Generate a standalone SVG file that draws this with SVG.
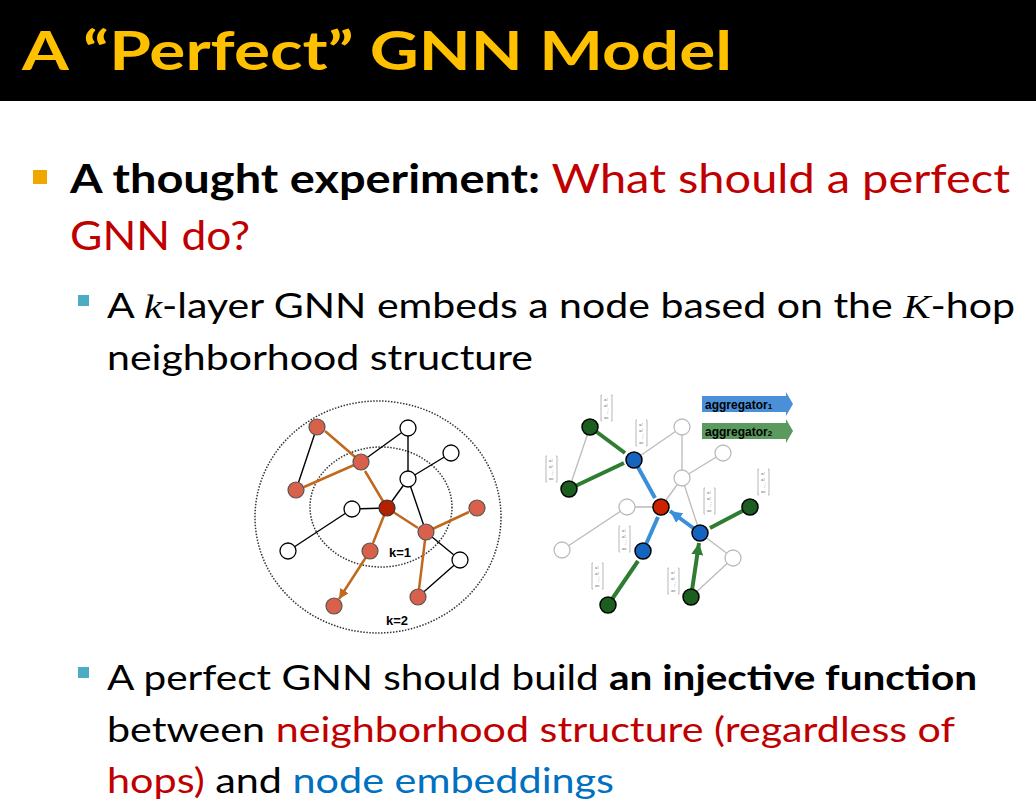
<svg xmlns="http://www.w3.org/2000/svg" width="1036" height="807" viewBox="0 0 1036 807">
<style>
.t{font-family:Lato,"Open Sans",sans-serif;fill:#000}
.r{fill:#C00000}.b{fill:#0070C0}
.m{font-family:"Liberation Serif",serif;font-style:italic}
.bk{stroke:#000;stroke-width:1.4;fill:none}
.or{stroke:#C0691E;stroke-width:2.5;fill:none;marker-end:url(#ao)}
.gy{stroke:#bbb;stroke-width:1.3;fill:none}
.gr{stroke:#2E7D32;stroke-width:4;fill:none;marker-end:url(#ag)}
.bl{stroke:#3A8FD9;stroke-width:4;fill:none;marker-end:url(#ab)}
.wn{fill:#fff;stroke:#000;stroke-width:1.3}
.rn{fill:#D9604A;stroke:#555;stroke-width:1.2}
.gn{fill:#fff;stroke:#bbb;stroke-width:1.3}
.gg{fill:#1B5E20;stroke:#000;stroke-width:1.5}
.bb{fill:#1565C0;stroke:#000;stroke-width:1.5}
.v{font-family:"Liberation Serif",serif;font-style:italic;font-size:5px;fill:#555}
.vb{stroke:#999;stroke-width:0.7;fill:none}
</style>
<defs>
<marker id="ao" viewBox="0 0 10 10" refX="10" refY="5" markerWidth="4" markerHeight="4" orient="auto"><path d="M0,0L10,5L0,10z" fill="#C0691E"/></marker>
<marker id="ag" viewBox="0 0 10 10" refX="10" refY="5" markerWidth="3" markerHeight="3" orient="auto"><path d="M0,0L10,5L0,10z" fill="#2E7D32"/></marker>
<marker id="ab" viewBox="0 0 10 10" refX="10" refY="5" markerWidth="3" markerHeight="3" orient="auto"><path d="M0,0L10,5L0,10z" fill="#3A8FD9"/></marker>
</defs>
<rect width="1036" height="807" fill="#fff"/>
<rect width="1036" height="101" fill="#000"/>
<text x="22" y="70" font-family="Lato,'Open Sans',sans-serif" font-weight="bold" font-size="54" fill="#FFC000" textLength="710" lengthAdjust="spacingAndGlyphs">A “Perfect” GNN Model</text>

<rect x="33" y="170" width="14" height="14" fill="#F0A800"/>
<text class="t" x="70" y="193" font-size="40" textLength="940" lengthAdjust="spacingAndGlyphs"><tspan font-weight="bold">A thought experiment:</tspan><tspan class="r"> What should a perfect</tspan></text>
<text class="t r" x="70" y="250" font-size="40" textLength="180" lengthAdjust="spacingAndGlyphs">GNN do?</text>

<rect x="78" y="295" width="11" height="11" fill="#4BACC6"/>
<text class="t" x="107" y="318" font-size="34" textLength="908" lengthAdjust="spacingAndGlyphs">A <tspan class="m">k</tspan>-layer GNN embeds a node based on the <tspan class="m">K</tspan>-hop</text>
<text class="t" x="107" y="370" font-size="34" textLength="426" lengthAdjust="spacingAndGlyphs">neighborhood structure</text>

<rect x="78" y="667" width="11" height="11" fill="#4BACC6"/>
<text class="t" x="107" y="690" font-size="34" textLength="870" lengthAdjust="spacingAndGlyphs">A perfect GNN should build <tspan font-weight="bold">an injective function</tspan></text>
<text class="t" x="107" y="742" font-size="34" textLength="848" lengthAdjust="spacingAndGlyphs">between <tspan class="r">neighborhood structure (regardless of</tspan></text>
<text class="t" x="107" y="793" font-size="34" textLength="507" lengthAdjust="spacingAndGlyphs"><tspan class="r">hops)</tspan> and <tspan class="b">node embeddings</tspan></text>

<!-- left figure -->
<g id="rings">
<ellipse cx="378" cy="517" rx="123" ry="116" fill="none" stroke="#333" stroke-width="1.5" stroke-dasharray="1.5 1.5"/>
<ellipse cx="381" cy="507" rx="71" ry="60" fill="none" stroke="#333" stroke-width="1.5" stroke-dasharray="1.5 1.5"/>
</g>
<g id="left-edges">
<path class="bk" d="M317,427L296,490M408,428L361,462M408,428L408,479M451,453L408,479M408,479L387,508M408,479L426,532M352,509L387,508M352,509L288,551M426,532L460,560M460,560L418,597"/>
<path class="or" d="M361,462L325,431M361,462L304,487M387,508L365,471M387,508L418,528M387,508L373,543M426,532L469,512M426,532L419,589M370,551L339,599"/>
</g>
<g id="left-nodes">
<circle class="rn" cx="317" cy="427" r="8"/><circle class="wn" cx="408" cy="428" r="8"/>
<circle class="rn" cx="361" cy="462" r="8"/><circle class="wn" cx="451" cy="453" r="8"/>
<circle class="rn" cx="296" cy="490" r="8"/><circle class="wn" cx="408" cy="479" r="8"/>
<circle class="wn" cx="352" cy="509" r="8"/><circle cx="387" cy="508" r="8" fill="#B52000" stroke="#333" stroke-width="1.2"/>
<circle class="rn" cx="477" cy="508" r="8"/><circle class="rn" cx="426" cy="532" r="8"/>
<circle class="wn" cx="288" cy="551" r="8"/><circle class="rn" cx="370" cy="551" r="8"/>
<circle class="wn" cx="460" cy="560" r="8"/><circle class="rn" cx="418" cy="597" r="8"/>
<circle class="rn" cx="334" cy="606" r="8"/>
</g>
<text x="389" y="557" font-family="Liberation Sans,sans-serif" font-weight="bold" font-size="13">k=1</text>
<text x="386" y="625" font-family="Liberation Sans,sans-serif" font-weight="bold" font-size="13">k=2</text>

<!-- right figure -->
<g id="legend">
<path d="M702,396H786V392L793,404L786,416V412H702Z" fill="#4A90D9"/>
<text x="705" y="409" font-family="Liberation Sans,sans-serif" font-weight="bold" font-size="12">aggregator<tspan font-size="8">1</tspan></text>
<path d="M702,423H786V419L793,431L786,443V439H702Z" fill="#5A9A5E"/>
<text x="705" y="436" font-family="Liberation Sans,sans-serif" font-weight="bold" font-size="12">aggregator<tspan font-size="8">2</tspan></text>
</g>
<g id="right-edges">
<path class="gy" d="M590,427L569,489M634,460L682,427M682,427L682,478M723,453L682,478M682,478L661,507M682,478L700,533M627,507L661,507M627,507L562,550M700,533L733,558M733,558L691,597"/>
<path class="gr" d="M590,427L625,453M569,489L624,463M750,507L710,528M608,605L638,561M691,597L699,543"/>
<path class="bl" d="M634,460L655,498M643,551L658,517M700,533L670,511"/>
</g>
<g id="right-nodes">
<circle class="gg" cx="590" cy="427" r="8"/><circle class="bb" cx="634" cy="460" r="8"/>
<circle class="gn" cx="682" cy="427" r="8"/><circle class="gn" cx="723" cy="453" r="8"/>
<circle class="gn" cx="682" cy="478" r="8"/><circle class="gg" cx="569" cy="489" r="8"/>
<circle class="gn" cx="627" cy="507" r="8"/><circle cx="661" cy="507" r="8" fill="#CC2200" stroke="#000" stroke-width="1.5"/>
<circle class="gg" cx="750" cy="507" r="8"/><circle class="bb" cx="700" cy="533" r="8"/>
<circle class="bb" cx="643" cy="551" r="8"/><circle class="gn" cx="562" cy="550" r="8"/>
<circle class="gn" cx="733" cy="558" r="8"/><circle class="gg" cx="608" cy="605" r="8"/>
<circle class="gg" cx="691" cy="597" r="8"/>
</g>
<g id="vectors">
<g transform="translate(601,395)"><path class="vb" d="M1,0H0V26H1M10,0H11V26H10"/><text class="v" x="3" y="6">x<tspan font-size="3">1</tspan></text><text class="v" x="3" y="12">x<tspan font-size="3">2</tspan></text><text class="v" x="4" y="18">⋮</text><text class="v" x="3" y="24">x<tspan font-size="3">m</tspan></text></g>
<g transform="translate(636,420)"><path class="vb" d="M1,0H0V26H1M10,0H11V26H10"/><text class="v" x="3" y="6">x<tspan font-size="3">1</tspan></text><text class="v" x="3" y="12">x<tspan font-size="3">2</tspan></text><text class="v" x="4" y="18">⋮</text><text class="v" x="3" y="24">x<tspan font-size="3">m</tspan></text></g>
<g transform="translate(546,456)"><path class="vb" d="M1,0H0V26H1M10,0H11V26H10"/><text class="v" x="3" y="6">x<tspan font-size="3">1</tspan></text><text class="v" x="3" y="12">x<tspan font-size="3">2</tspan></text><text class="v" x="4" y="18">⋮</text><text class="v" x="3" y="24">x<tspan font-size="3">m</tspan></text></g>
<g transform="translate(758,469)"><path class="vb" d="M1,0H0V26H1M10,0H11V26H10"/><text class="v" x="3" y="6">x<tspan font-size="3">1</tspan></text><text class="v" x="3" y="12">x<tspan font-size="3">2</tspan></text><text class="v" x="4" y="18">⋮</text><text class="v" x="3" y="24">x<tspan font-size="3">m</tspan></text></g>
<g transform="translate(704,488)"><path class="vb" d="M1,0H0V26H1M10,0H11V26H10"/><text class="v" x="3" y="6">x<tspan font-size="3">1</tspan></text><text class="v" x="3" y="12">x<tspan font-size="3">2</tspan></text><text class="v" x="4" y="18">⋮</text><text class="v" x="3" y="24">x<tspan font-size="3">m</tspan></text></g>
<g transform="translate(619,526)"><path class="vb" d="M1,0H0V26H1M10,0H11V26H10"/><text class="v" x="3" y="6">x<tspan font-size="3">1</tspan></text><text class="v" x="3" y="12">x<tspan font-size="3">2</tspan></text><text class="v" x="4" y="18">⋮</text><text class="v" x="3" y="24">x<tspan font-size="3">m</tspan></text></g>
<g transform="translate(592,563)"><path class="vb" d="M1,0H0V26H1M10,0H11V26H10"/><text class="v" x="3" y="6">x<tspan font-size="3">1</tspan></text><text class="v" x="3" y="12">x<tspan font-size="3">2</tspan></text><text class="v" x="4" y="18">⋮</text><text class="v" x="3" y="24">x<tspan font-size="3">m</tspan></text></g>
<g transform="translate(668,568)"><path class="vb" d="M1,0H0V26H1M10,0H11V26H10"/><text class="v" x="3" y="6">x<tspan font-size="3">1</tspan></text><text class="v" x="3" y="12">x<tspan font-size="3">2</tspan></text><text class="v" x="4" y="18">⋮</text><text class="v" x="3" y="24">x<tspan font-size="3">m</tspan></text></g>
</g>
</svg>
